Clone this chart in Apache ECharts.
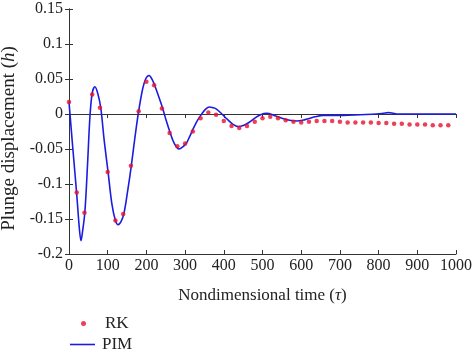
<!DOCTYPE html>
<html>
<head>
<meta charset="utf-8">
<script src="https://cdn.jsdelivr.net/npm/echarts@6/dist/echarts.min.js"></script>
<style>
	html, body { margin: 0; padding: 0; background: #fff; }
	#plunge { width: 474px; height: 353px; }
</style>
</head>
<body>
<div id="plunge"></div>
<script>
// RK 结果 (每隔 20 取一个点)
var rkTime = [0, 20, 40, 60, 80, 100, 120, 140, 160, 180, 200, 220, 240, 260, 280, 300, 320, 340, 360, 380,
	400, 420, 440, 460, 480, 500, 520, 540, 560, 580, 600, 620, 640, 660, 680, 700, 720, 740, 760, 780,
	800, 820, 840, 860, 880, 900, 920, 940, 960, 980];
var rkValue = [0.017, -0.112, -0.141, 0.028, 0.009, -0.083, -0.152, -0.143, -0.074, 0.004, 0.046, 0.041, 0.008, -0.027, -0.046, -0.042, -0.025, -0.006, 0.002, -0.001,
	-0.010, -0.017, -0.020, -0.017, -0.011, -0.006, -0.004, -0.006, -0.009, -0.011, -0.012, -0.011, -0.010, -0.010, -0.010, -0.011, -0.012, -0.012, -0.012, -0.012,
	-0.013, -0.013, -0.014, -0.014, -0.015, -0.015, -0.015, -0.016, -0.016, -0.016];

// PIM 曲线 (从图上读取的点)
var pimTime = [0, 10, 20, 27, 31, 35, 41, 48, 54, 60, 67, 74, 82, 91, 101, 111, 120, 127, 135, 142,
	151, 161, 170, 180, 190, 198, 207, 215, 222, 231, 241, 251, 261, 272, 284, 294, 304, 312, 321, 332,
	343, 353, 363, 372, 381, 395, 408, 422, 437, 452, 468, 480, 495, 511, 530, 550, 570, 588, 610, 636,
	657, 680, 709, 752, 795, 812, 825, 838, 846, 900, 1000];
var pimValue = [0.017, -0.050, -0.115, -0.165, -0.181, -0.168, -0.140, -0.071, -0.005, 0.030, 0.039, 0.030, 0.009, -0.038, -0.083, -0.129, -0.152, -0.158, -0.153, -0.142,
	-0.112, -0.074, -0.035, 0.004, 0.035, 0.050, 0.055, 0.049, 0.040, 0.026, 0.010, -0.009, -0.026, -0.042, -0.050, -0.047, -0.041, -0.032, -0.021, -0.009,
	0.000, 0.007, 0.010, 0.009, 0.007, 0.000, -0.007, -0.014, -0.018, -0.016, -0.011, -0.006, -0.001, 0.001, -0.002, -0.006, -0.009, -0.010, -0.008, -0.004,
	-0.002, -0.002, -0.002, -0.001, 0.000, 0.001, 0.002, 0.001, 0.000, 0.000, 0.000];

// 坐标轴刻度
var xTicks = {min: 0, max: 1000, interval: 100};
var yTicks = {min: -0.2, max: 0.15, interval: 0.05};

var seriesNames = ['RK', 'PIM'];

function pairs(xs, ys) {
	var out = [];
	for (var i = 0; i < xs.length; i++) {
		out.push([xs[i], ys[i]]);
	}
	return out;
}

var fontFamily = '"Liberation Serif", "DejaVu Serif", serif';
var textColor = '#222';
var axisColor = '#333';
var lineColor = '#1c1ce0';

var myChart = echarts.init(document.getElementById('plunge'));
var option = {
	animation: false,
	grid: {
		left: 69,
		right: 18,
		top: 9,
		bottom: 99,
		outerBoundsMode: 'none' // 不自动收缩绘图区
	},
	legend: [{ // RK 图例 (小圆点)
		data: [seriesNames[0]],
		orient: 'vertical',
		left: 76,
		top: 310,
		itemWidth: 5,
		itemHeight: 5,
		icon: 'circle',
		formatter: '{a|{name}}',
		textStyle: {
			color: textColor,
			fontFamily: fontFamily,
			fontSize: 17,
			rich: {a: {fontFamily: fontFamily, fontSize: 17, color: textColor, padding: [0, 0, 0, 14]}}
		}
	}, { // PIM 图例 (线段)
		data: [{name: seriesNames[1], icon: 'rect', itemStyle: {color: lineColor}}],
		orient: 'vertical',
		left: 65,
		top: 331,
		itemWidth: 25,
		itemHeight: 1.6,
		formatter: '{a|{name}}',
		textStyle: {
			color: textColor,
			fontFamily: fontFamily,
			fontSize: 17,
			rich: {a: {fontFamily: fontFamily, fontSize: 17, color: textColor, padding: [0, 0, 0, 2]}}
		}
	}],
	xAxis: [{
		type: 'value',
		min: xTicks.min,
		max: xTicks.max,
		interval: xTicks.interval,
		name: 'Nondimensional time ({i|τ})',
		nameLocation: 'middle',
		nameGap: 33,
		nameTextStyle: {
			color: textColor,
			fontFamily: fontFamily,
			fontSize: 17,
			rich: {i: {fontFamily: fontFamily, fontSize: 17, fontStyle: 'italic', color: textColor}}
		},
		axisLine: {show: true, onZero: false, lineStyle: {color: axisColor, width: 1}},
		axisTick: {show: true, inside: true, length: 4, lineStyle: {color: axisColor}},
		axisLabel: {
			color: textColor,
			fontFamily: fontFamily,
			fontSize: 16,
			margin: 4,
			formatter: function(v) {
				return String(v);
			}
		},
		splitLine: {show: false}
	}, { // 上边框
		type: 'value',
		position: 'top',
		min: xTicks.min,
		max: xTicks.max,
		interval: xTicks.interval,
		axisLine: {show: true, lineStyle: {color: axisColor, width: 1}},
		axisTick: {show: true, inside: true, length: 4, lineStyle: {color: axisColor}},
		axisLabel: {show: false},
		splitLine: {show: false}
	}],
	yAxis: [{
		type: 'value',
		min: yTicks.min,
		max: yTicks.max,
		interval: yTicks.interval,
		name: 'Plunge displacement ({i|h})',
		nameLocation: 'middle',
		nameGap: 40,
		nameTextStyle: {
			color: textColor,
			fontFamily: fontFamily,
			fontSize: 19,
			padding: [0, 14, 0, 0],
			rich: {i: {fontFamily: fontFamily, fontSize: 19, fontStyle: 'italic', color: textColor}}
		},
		axisLine: {show: true, onZero: false, lineStyle: {color: axisColor, width: 1}},
		axisTick: {show: true, inside: true, length: 4, lineStyle: {color: axisColor}},
		axisLabel: {
			color: textColor,
			fontFamily: fontFamily,
			fontSize: 16,
			margin: 6,
			formatter: function(v) {
				return String(+v.toFixed(2));
			}
		},
		splitLine: {show: false}
	}, { // 右边框
		type: 'value',
		position: 'right',
		min: yTicks.min,
		max: yTicks.max,
		interval: yTicks.interval,
		axisLine: {show: true, lineStyle: {color: axisColor, width: 1}},
		axisTick: {show: true, inside: true, length: 4, lineStyle: {color: axisColor}},
		axisLabel: {show: false},
		splitLine: {show: false}
	}],
	series: [{
		name: seriesNames[1],
		type: 'line',
		data: pairs(pimTime, pimValue),
		smooth: 0.35,
		symbol: 'none',
		lineStyle: {color: lineColor, width: 1.6},
		itemStyle: {color: lineColor},
		z: 2
	}, {
		name: seriesNames[0],
		type: 'scatter',
		data: pairs(rkTime, rkValue),
		symbol: 'circle',
		symbolSize: 4.5,
		itemStyle: {color: '#e8102c'},
		z: 3
	}]
};
myChart.setOption(option);
</script>
</body>
</html>
